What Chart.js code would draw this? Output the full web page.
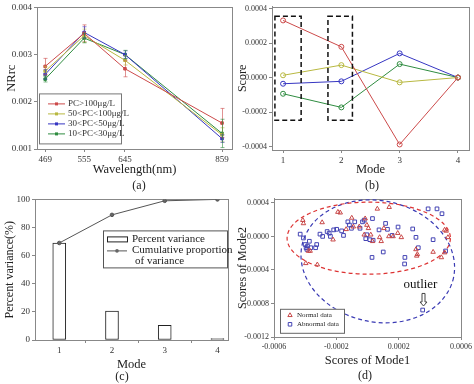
<!DOCTYPE html>
<html>
<head>
<meta charset="utf-8">
<script src="https://cdn.jsdelivr.net/npm/chart.js@4.4.0/dist/chart.umd.min.js"></script>
<style>
  body { margin: 0; background: #fff; }
  #wrap { position: relative; width: 474px; height: 384px; font-family: "Liberation Serif", serif; }
  canvas { position: absolute; }
  .tag { position: absolute; font-size: 12px; color: #222; transform: translate(-50%, -50%); }
</style>
</head>
<body>
<div id="wrap">
  <canvas id="chartA" width="237" height="192" style="left:0;top:0"></canvas>
  <canvas id="chartB" width="237" height="192" style="left:237px;top:0"></canvas>
  <canvas id="chartC" width="237" height="192" style="left:0;top:192px"></canvas>
  <canvas id="chartD" width="237" height="192" style="left:237px;top:192px"></canvas>
  <div class="tag" style="left:139px;top:185px">(a)</div>
  <div class="tag" style="left:372px;top:185px">(b)</div>
  <div class="tag" style="left:122px;top:376px">(c)</div>
  <div class="tag" style="left:365px;top:375px">(d)</div>
</div>
<script>
// ---- (a) NRrc spectra ----
const wavelengths = [469, 555, 645, 859];
const nrrcTicks = [0.001, 0.002, 0.003, 0.004];
const pcLabels = ['PC>100μg/L', '50<PC<100μg/L', '30<PC<50μg/L', '10<PC<30μg/L'];
const nrrcHigh = [0.00275, 0.00345, 0.00270, 0.00155];
const nrrcMidHigh = [0.00265, 0.00340, 0.00288, 0.00130];
const nrrcMid = [0.00258, 0.00347, 0.00300, 0.00122];
const nrrcLow = [0.00248, 0.00335, 0.00300, 0.00133];
const errHigh = [0.00017, 0.00018, 0.00017, 0.00031];
const errMidHigh = [0.00010, 0.00014, 0.00010, 0.00015];
const errMid = [0.00010, 0.00012, 0.00008, 0.00008];
const errLow = [0.00006, 0.00010, 0.00009, 0.00030];

// ---- (b) mode scores ----
const modes = [1, 2, 3, 4];
const scoreTicks = [-0.0004, -0.0002, 0, 0.0002, 0.0004];
const scoreHigh = [0.000331, 0.000178, -0.000388, 0];
const scoreMidHigh = [0.000013, 0.000072, -0.000028, 0];
const scoreMid = [-0.000036, -0.000022, 0.000140, 0];
const scoreLow = [-0.000094, -0.000173, 0.000078, 0];
const boxModes = [[0.86, 1.31], [1.77, 2.19]];
const boxScores = [-0.000247, 0.000355];

// ---- (c) variance ----
const varianceTicks = [0, 20, 40, 60, 80, 100];
const percentVariance = [69, 20.5, 10.5, 0.7];
const cumulativeVariance = [69, 89, 99, 100];

// ---- (d) mode1/mode2 scores ----
const mode1Ticks = [-0.0006, -0.0002, 0.0002, 0.0006];
const mode2Ticks = [-0.0012, -0.0008, -0.0004, 0, 0.0004];
const normalX = [-0.000415, -0.000411, -0.000396, -0.000379, -0.000368, -0.000322, -0.000291, -0.000221,
  -0.000190, -0.000175, -0.000137, -0.000101, -0.000091, -0.000053, -0.000015, -0.000004, 0.000006,
  -0.000021, 0.000021, 0.000032, 0.000063, 0.000078, 0.000088, 0.000105, 0.000139, 0.000137, 0.000164,
  0.000194, 0.000217, 0.000311, 0.000316, 0.000320, 0.000421, 0.000474, 0.000495, 0.000505, 0.000516, 0.000495];
const normalY = [0.000195, 0.000156, -0.000320, -0.000173, -0.000173, -0.000336, 0.000168, -0.000038,
  0.000292, 0.000284, 0.000086, 0.000222, 0.000117, 0.000117, 0.000214, 0.000137, 0.000098,
  0.000021, 0.000021, -0.000057, 0.000330, -0.000010, -0.000057, 0.000098, 0.000350, 0.000001, 0.000001,
  0.000040, -0.000010, -0.000154, -0.000231, -0.000212, -0.000185, -0.000250, 0.000079, 0.000067, -0.000010, -0.000192];
const abnormalX = [-0.000432, -0.000411, -0.000400, -0.000389, -0.000385, -0.000373, -0.000394, -0.000364,
  -0.000326, -0.000333, -0.000305, -0.000288, -0.000259, -0.000246, -0.000238, -0.000217, -0.000198,
  -0.000166, -0.000154, -0.000126, -0.000116, -0.000103, -0.000082, -0.000048, -0.000032, -0.000021,
  -0.000011, -0.000004, 0.000015, 0.000032, 0.000036, 0.000029, 0.000074, 0.000116, 0.000128, 0.000101,
  0.000158, 0.000196, 0.000240, 0.000238, 0.000290, 0.000311, 0.000326, 0.000354, 0.000389, 0.000421,
  0.000446, 0.000478, 0.000501];
const abnormalY = [0.000028, -0.000018, -0.000096, -0.000154, -0.000115, -0.000057, -0.000134, -0.000134,
  -0.000096, -0.000134, 0.000028, 0.000001, 0.000059, 0.000040, 0.000001, 0.000079, 0.000086,
  0.000067, 0.000013, 0.000175, 0.000137, 0.000098, 0.000175, 0.000098, 0.000175, 0.000195,
  -0.000026, 0.000021, -0.000038, 0.000214, -0.000045, -0.000250, 0.000079, 0.000156, 0.000086, -0.000185,
  0.000013, 0.000113, -0.000250, -0.000328, 0.000090, -0.000010, -0.000134, -0.000878, 0.000330, -0.000038,
  0.000330, 0.000272, -0.000173];

const serif = '"Liberation Serif", "Times New Roman", serif';
const seriesColors = ['#cc4a4a', '#b8b840', '#3636c2', '#2f8c40'];

function axis(extra) {
  const { ticks, title, ...rest } = extra;
  return {
    type: 'linear',
    bounds: 'data',
    border: { display: true, color: '#888', width: 1 },
    grid: { display: true, drawOnChartArea: false, drawTicks: true, tickLength: 3, color: '#888' },
    ticks: { color: '#333', font: { family: serif, size: 9 }, padding: 2, maxRotation: 0, autoSkip: false, ...(ticks || {}) },
    title: { display: true, color: '#222', font: { family: serif, size: 12.5, lineHeight: 1.2 }, ...(title || {}) },
    ...rest
  };
}

function fixTicks(values) {
  return s => { s.ticks = values.map(v => ({ value: v })); };
}

const baseOptions = {
  responsive: false,
  animation: false,
  devicePixelRatio: 1,
  plugins: { legend: { display: false }, tooltip: { enabled: false } }
};

// box round the plotting area
const framePlugin = {
  id: 'frame',
  beforeDatasetsDraw(chart) {
    const { ctx, chartArea: a } = chart;
    ctx.save();
    ctx.strokeStyle = '#888';
    ctx.lineWidth = 1;
    ctx.strokeRect(Math.round(a.left) + 0.5, Math.round(a.top) + 0.5,
      Math.round(a.right - a.left), Math.round(a.bottom - a.top));
    ctx.restore();
  }
};

// ---------------- (a) ----------------
const errorBarPlugin = {
  id: 'errorBars',
  afterDatasetsDraw(chart) {
    const { ctx, scales: { x, y } } = chart;
    ctx.save();
    ctx.lineWidth = 1;
    chart.data.datasets.forEach(ds => {
      ctx.strokeStyle = ds.borderColor;
      ctx.globalAlpha = 0.6;
      ds.errors.forEach((e, i) => {
        const p = ds.data[i];
        const px = Math.round(x.getPixelForValue(p.x)) + 0.5;
        const top = y.getPixelForValue(p.y + e);
        const bot = y.getPixelForValue(p.y - e);
        ctx.beginPath();
        ctx.moveTo(px, top); ctx.lineTo(px, bot);
        ctx.moveTo(px - 2, top); ctx.lineTo(px + 2, top);
        ctx.moveTo(px - 2, bot); ctx.lineTo(px + 2, bot);
        ctx.stroke();
      });
    });
    ctx.restore();
  }
};

const nrrcLegend = {
  id: 'nrrcLegend',
  afterDraw(chart) {
    const { ctx, chartArea: a } = chart;
    const bx = a.left + 2, by = a.top + 86, bw = 82, bh = 50;
    ctx.save();
    ctx.fillStyle = '#fff';
    ctx.fillRect(bx, by, bw, bh);
    ctx.strokeStyle = '#777';
    ctx.lineWidth = 1;
    ctx.strokeRect(bx + 0.5, by + 0.5, bw, bh);
    ctx.font = '9px ' + serif;
    ctx.textBaseline = 'middle';
    chart.data.datasets.forEach((ds, i) => {
      const yy = by + 10.5 + i * 10;
      ctx.strokeStyle = ds.borderColor;
      ctx.beginPath();
      ctx.moveTo(bx + 9, yy); ctx.lineTo(bx + 26, yy);
      ctx.stroke();
      ctx.fillStyle = ds.borderColor;
      ctx.fillRect(bx + 16, yy - 1.5, 3, 3);
      ctx.fillStyle = '#333';
      ctx.fillText(ds.label, bx + 29, yy);
    });
    ctx.restore();
  }
};

const nrrcSeries = [nrrcHigh, nrrcMidHigh, nrrcMid, nrrcLow];
const nrrcErrors = [errHigh, errMidHigh, errMid, errLow];

new Chart(document.getElementById('chartA'), {
  type: 'line',
  data: {
    datasets: nrrcSeries.map((vals, i) => ({
      label: pcLabels[i],
      data: wavelengths.map((w, j) => ({ x: w, y: vals[j] })),
      errors: nrrcErrors[i],
      borderColor: seriesColors[i],
      backgroundColor: seriesColors[i],
      borderWidth: 1,
      pointStyle: 'rect',
      pointRadius: 1.8,
      tension: 0
    }))
  },
  options: {
    ...baseOptions,
    layout: { padding: { top: 4, right: 4, left: 0, bottom: 0 } },
    scales: {
      x: axis({
        min: 451, max: 881,
        afterBuildTicks: fixTicks(wavelengths),
        afterFit: s => { s.height = 43; },
        title: { text: 'Wavelength(nm)', padding: { top: 0, bottom: 15 } }
      }),
      y: axis({
        min: 0.001, max: 0.004,
        afterBuildTicks: fixTicks(nrrcTicks),
        afterFit: s => { s.width = 37; },
        ticks: { callback: v => v.toFixed(3) },
        title: { text: 'NRrc', font: { family: serif, size: 12.5, lineHeight: 1 }, padding: { top: 5, bottom: 0 } }
      })
    }
  },
  plugins: [framePlugin, errorBarPlugin, nrrcLegend]
});

// ---------------- (b) ----------------
const boxPlugin = {
  id: 'modeBoxes',
  afterDatasetsDraw(chart) {
    const { ctx, scales: { x, y } } = chart;
    ctx.save();
    ctx.strokeStyle = '#111';
    ctx.lineWidth = 1.5;
    ctx.setLineDash([5, 3]);
    boxModes.forEach(([m0, m1]) => {
      const l = x.getPixelForValue(m0), r = x.getPixelForValue(m1);
      const t = y.getPixelForValue(boxScores[1]), b = y.getPixelForValue(boxScores[0]);
      ctx.strokeRect(l, t, r - l, b - t);
    });
    ctx.restore();
  }
};

const scoreSeries = [scoreHigh, scoreMidHigh, scoreMid, scoreLow];

new Chart(document.getElementById('chartB'), {
  type: 'line',
  data: {
    datasets: scoreSeries.map((vals, i) => ({
      data: modes.map((m, j) => ({ x: m, y: vals[j] })),
      borderColor: seriesColors[i],
      backgroundColor: 'rgba(255,255,255,0)',
      borderWidth: 1,
      pointRadius: 2.5,
      pointBorderWidth: 1,
      tension: 0
    }))
  },
  options: {
    ...baseOptions,
    layout: { padding: { top: 3, right: 4, left: 0, bottom: 0 } },
    scales: {
      x: axis({
        min: 0.81, max: 4.19,
        afterBuildTicks: fixTicks(modes),
        afterFit: s => { s.height = 42; },
        title: { text: 'Mode', padding: { top: 0, bottom: 15 } }
      }),
      y: axis({
        min: -0.00042, max: 0.00041,
        afterBuildTicks: fixTicks(scoreTicks),
        afterFit: s => { s.width = 35; },
        ticks: { callback: v => v.toFixed(4), font: { family: serif, size: 8 } },
        title: { text: 'Score', font: { family: serif, size: 12, lineHeight: 1 }, padding: { top: 0, bottom: 0 } }
      })
    }
  },
  plugins: [framePlugin, boxPlugin]
});

// ---------------- (c) ----------------
const varianceLegend = {
  id: 'varianceLegend',
  afterDraw(chart) {
    const { ctx, chartArea: a } = chart;
    const bx = a.left + 68, by = a.top + 31, bw = 124, bh = 37;
    ctx.save();
    ctx.fillStyle = '#fff';
    ctx.fillRect(bx, by, bw, bh);
    ctx.strokeStyle = '#555';
    ctx.lineWidth = 1;
    ctx.strokeRect(bx + 0.5, by + 0.5, bw, bh);
    ctx.strokeStyle = '#222';
    ctx.strokeRect(bx + 4.5, by + 6.5, 20, 5);
    ctx.strokeStyle = '#555';
    ctx.beginPath();
    ctx.moveTo(bx + 4, by + 20.5); ctx.lineTo(bx + 24, by + 20.5);
    ctx.stroke();
    ctx.fillStyle = '#666';
    ctx.beginPath();
    ctx.arc(bx + 14, by + 20.5, 1.8, 0, Math.PI * 2);
    ctx.fill();
    ctx.fillStyle = '#222';
    ctx.font = '11px ' + serif;
    ctx.textBaseline = 'middle';
    ctx.fillText('Percent variance', bx + 29, by + 9);
    ctx.fillText('Cumulative proportion', bx + 29, by + 20);
    ctx.fillText('of variance', bx + 32, by + 31);
    ctx.restore();
  }
};

new Chart(document.getElementById('chartC'), {
  type: 'bar',
  data: {
    datasets: [
      {
        type: 'line',
        data: modes.map((m, j) => ({ x: m, y: cumulativeVariance[j] })),
        borderColor: '#555',
        backgroundColor: '#666',
        borderWidth: 1,
        pointRadius: 1.8,
        order: 0
      },
      {
        data: modes.map((m, j) => ({ x: m, y: percentVariance[j] })),
        backgroundColor: '#fff',
        borderColor: '#222',
        borderWidth: 1,
        borderSkipped: false,
        barThickness: 13,
        minBarLength: 1.5,
        order: 1
      }
    ]
  },
  options: {
    ...baseOptions,
    layout: { padding: { top: 7, right: 9, left: 0, bottom: 0 } },
    scales: {
      x: axis({
        min: 0.54, max: 4.2,
        offset: false,
        afterBuildTicks: fixTicks(modes),
        afterFit: s => { s.height = 44; },
        title: { text: 'Mode', padding: { top: 0, bottom: 12 } }
      }),
      y: axis({
        min: 0, max: 100,
        afterBuildTicks: fixTicks(varianceTicks),
        afterFit: s => { s.width = 35; },
        title: { text: 'Percent variance(%)', font: { family: serif, size: 12, lineHeight: 1 }, padding: { top: 4, bottom: 0 } }
      })
    }
  },
  plugins: [framePlugin, varianceLegend]
});

// ---------------- (d) ----------------
const normalEllipse = { cx: 0.000008, cy: -0.00002, rx: 0.000524, ry: 0.00043, rot: 0 };
const abnormalEllipse = { cx: 0.000066, cy: -0.000297, rx: 0.000497, ry: 0.000724, rot: 0.21 };

const scatterDecor = {
  id: 'scatterDecor',
  beforeDatasetsDraw(chart) {
    const { ctx, scales: { x, y } } = chart;
    ctx.save();
    ctx.lineWidth = 1.2;
    ctx.setLineDash([4, 3]);
    [[abnormalEllipse, '#3a3ab4'], [normalEllipse, '#dd3333']].forEach(([e, c]) => {
      const px = x.getPixelForValue(e.cx), py = y.getPixelForValue(e.cy);
      const rxp = x.getPixelForValue(e.cx + e.rx) - px;
      const ryp = py - y.getPixelForValue(e.cy + e.ry);
      ctx.strokeStyle = c;
      ctx.beginPath();
      ctx.ellipse(px, py, rxp, ryp, e.rot, 0, Math.PI * 2);
      ctx.stroke();
    });
    ctx.restore();
  },
  afterDraw(chart) {
    const { ctx, chartArea: a, scales: { x, y } } = chart;
    ctx.save();
    // outlier note
    ctx.fillStyle = '#111';
    ctx.font = '13px ' + serif;
    ctx.textAlign = 'center';
    ctx.textBaseline = 'middle';
    ctx.fillText('outlier', x.getPixelForValue(0.00034), y.getPixelForValue(-0.00057));
    const ax = Math.round(x.getPixelForValue(0.000354)) + 0.5;
    const ay0 = y.getPixelForValue(-0.00068), ay1 = y.getPixelForValue(-0.00083);
    ctx.strokeStyle = '#444';
    ctx.fillStyle = '#fff';
    ctx.lineWidth = 1;
    ctx.beginPath();
    ctx.moveTo(ax - 1.5, ay0);
    ctx.lineTo(ax + 1.5, ay0);
    ctx.lineTo(ax + 1.5, ay1 - 4);
    ctx.lineTo(ax + 3.5, ay1 - 4);
    ctx.lineTo(ax, ay1);
    ctx.lineTo(ax - 3.5, ay1 - 4);
    ctx.lineTo(ax - 1.5, ay1 - 4);
    ctx.closePath();
    ctx.fill();
    ctx.stroke();
    // legend
    const bx = a.left + 6, by = a.top + 110, bw = 64, bh = 24;
    ctx.fillStyle = '#fff';
    ctx.fillRect(bx, by, bw, bh);
    ctx.strokeStyle = '#666';
    ctx.strokeRect(bx + 0.5, by + 0.5, bw, bh);
    ctx.textAlign = 'left';
    ctx.font = '7px ' + serif;
    chart.data.datasets.forEach((ds, i) => {
      const yy = by + 6.5 + i * 9;
      ctx.strokeStyle = ds.borderColor;
      ctx.fillStyle = '#fff';
      ctx.lineWidth = 1;
      Chart.helpers.drawPoint(ctx, { pointStyle: ds.pointStyle, radius: 2.5, rotation: 0, borderWidth: 1 }, bx + 10, yy);
      ctx.fillStyle = '#222';
      ctx.fillText(ds.label, bx + 17, yy);
    });
    ctx.restore();
  }
};

new Chart(document.getElementById('chartD'), {
  type: 'scatter',
  data: {
    datasets: [
      {
        label: 'Normal data',
        data: normalX.map((v, i) => ({ x: v, y: normalY[i] })),
        pointStyle: 'triangle',
        borderColor: '#c84848',
        backgroundColor: 'rgba(255,255,255,0)',
        pointRadius: 2.6,
        borderWidth: 1
      },
      {
        label: 'Abnormal data',
        data: abnormalX.map((v, i) => ({ x: v, y: abnormalY[i] })),
        pointStyle: 'rect',
        borderColor: '#4444b4',
        backgroundColor: 'rgba(255,255,255,0)',
        pointRadius: 2.6,
        borderWidth: 1
      }
    ]
  },
  options: {
    ...baseOptions,
    layout: { padding: { top: 3, right: 10, left: 0, bottom: 0 } },
    scales: {
      x: axis({
        min: -0.0006, max: 0.0006,
        afterBuildTicks: fixTicks(mode1Ticks),
        afterFit: s => { s.height = 47; },
        ticks: { callback: v => v.toFixed(4), font: { family: serif, size: 8 } },
        title: { text: 'Scores of Mode1', padding: { top: 0, bottom: 16 } }
      }),
      y: axis({
        min: -0.0012, max: 0.00045,
        afterBuildTicks: fixTicks(mode2Ticks),
        afterFit: s => { s.width = 37; },
        ticks: { callback: v => v.toFixed(4), font: { family: serif, size: 8 } },
        title: { text: 'Scores of Mode2', font: { family: serif, size: 12, lineHeight: 1 }, padding: { top: 0, bottom: 0 } }
      })
    }
  },
  plugins: [framePlugin, scatterDecor]
});
</script>
</body>
</html>
